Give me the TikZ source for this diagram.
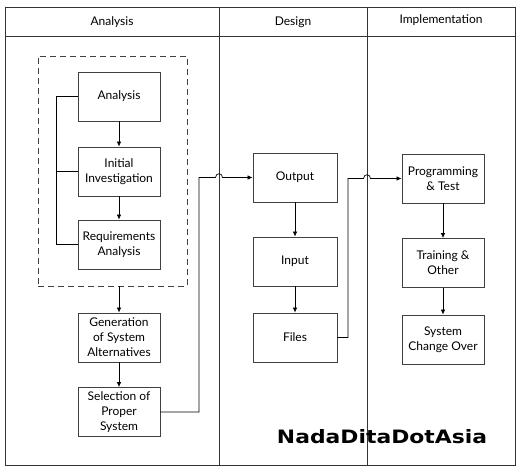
\documentclass[tikz,border=0pt]{standalone}
\usepackage{fontspec}
\setmainfont{Lato}
\newfontfamily\wmfont{DejaVu Sans}
\usetikzlibrary{arrows.meta}
\begin{document}
\begin{tikzpicture}[x=1pt,y=-1pt,
  box/.style={draw=black!75,line width=0.8pt,minimum width=82pt,minimum height=49pt,align=center,inner sep=1pt,font=\fontsize{12}{15}\selectfont},
  lane/.style={draw=black!80,line width=0.8pt},
  conn/.style={draw=black,line width=0.7pt},
  arr/.style={conn,-{Latex[length=5pt,width=4.5pt]}},
  hdr/.style={font=\fontsize{12}{14}\selectfont}]
\useasboundingbox (0,0) rectangle (521,472);
% frame
\draw[lane] (5,7) rectangle (515,465);
\draw[lane] (5,36) -- (515,36);
\draw[lane] (219,7) -- (219,465);
\draw[lane] (367,7) -- (367,465);
\node[hdr] (h1) at (112,22) {Analysis};
\node[hdr] (h2) at (293,22) {Design};
\node[hdr] (h3) at (441,20) {Implementation};
% dashed box
\node[draw=black!75,line width=0.8pt,dash pattern=on 6pt off 4pt,minimum width=149pt,minimum height=230pt,inner sep=0pt] (dbox) at (112.5,171) {};
% analysis lane
\node[box] (ana) at (119,96.5) {Analysis};
\node[box] (ini) at (119,171.5) {Initial\\Investigation};
\node[box] (req) at (119,244.5) {Requirements\\Analysis};
\node[box] (gen) at (119,337.5) {Generation\\of System\\Alternatives};
\node[box] (sel) at (119,412) {Selection of\\Proper\\System};
% design lane
\node[box,minimum width=84pt] (out) at (295,177.5) {Output};
\node[box,minimum width=84pt] (inp) at (295,261.5) {Input};
\node[box,minimum width=84pt] (fil) at (295,337.5) {Files};
% implementation lane
\node[box] (prg) at (443,178.5) {Programming\\\& Test};
\node[box] (trn) at (443,263) {Training \&\\Other};
\node[box] (sco) at (443,339.5) {System\\Change Over};
% arrows
\draw[arr] (ana) -- (ini);
\draw[arr] (ini) -- (req);
\draw[arr] (gen.north |- dbox.south) -- (gen.north);
\draw[arr] (gen) -- (sel);
\draw[arr] (out) -- (inp);
\draw[arr] (inp) -- (fil);
\draw[arr] (prg) -- (trn);
\draw[arr] (trn) -- (sco);
% feedback bracket
\coordinate (fb1) at (56,96.5);
\coordinate (fb2) at (56,244.5);
\coordinate (fb3) at (56,171.5);
\draw[conn] (ana.west) -- (fb1) -- (fb2) -- (req.west);
\draw[conn] (ini.west) -- (fb3);
% selection -> output with jump
\coordinate (s1) at (199,412);
\coordinate (s2) at (199,177.5);
\draw[arr] (sel.east) -- (s1) -- (s2) -- (215.5,177.5) .. controls (215.5,172.5) and (222.5,172.5) .. (222.5,177.5) -- (out.west);
% files -> programming with jump
\coordinate (f1) at (348,337.5);
\coordinate (f2) at (348,178.5);
\draw[arr] (fil.east) -- (f1) -- (f2) -- (363.5,178.5) .. controls (363.5,173.5) and (370.5,173.5) .. (370.5,178.5) -- (prg.west);
% watermark
\node[inner sep=0pt] (wm) at (382,437) {\resizebox{210pt}{14pt}{\wmfont\bfseries NadaDitaDotAsia}};
\end{tikzpicture}
\end{document}
